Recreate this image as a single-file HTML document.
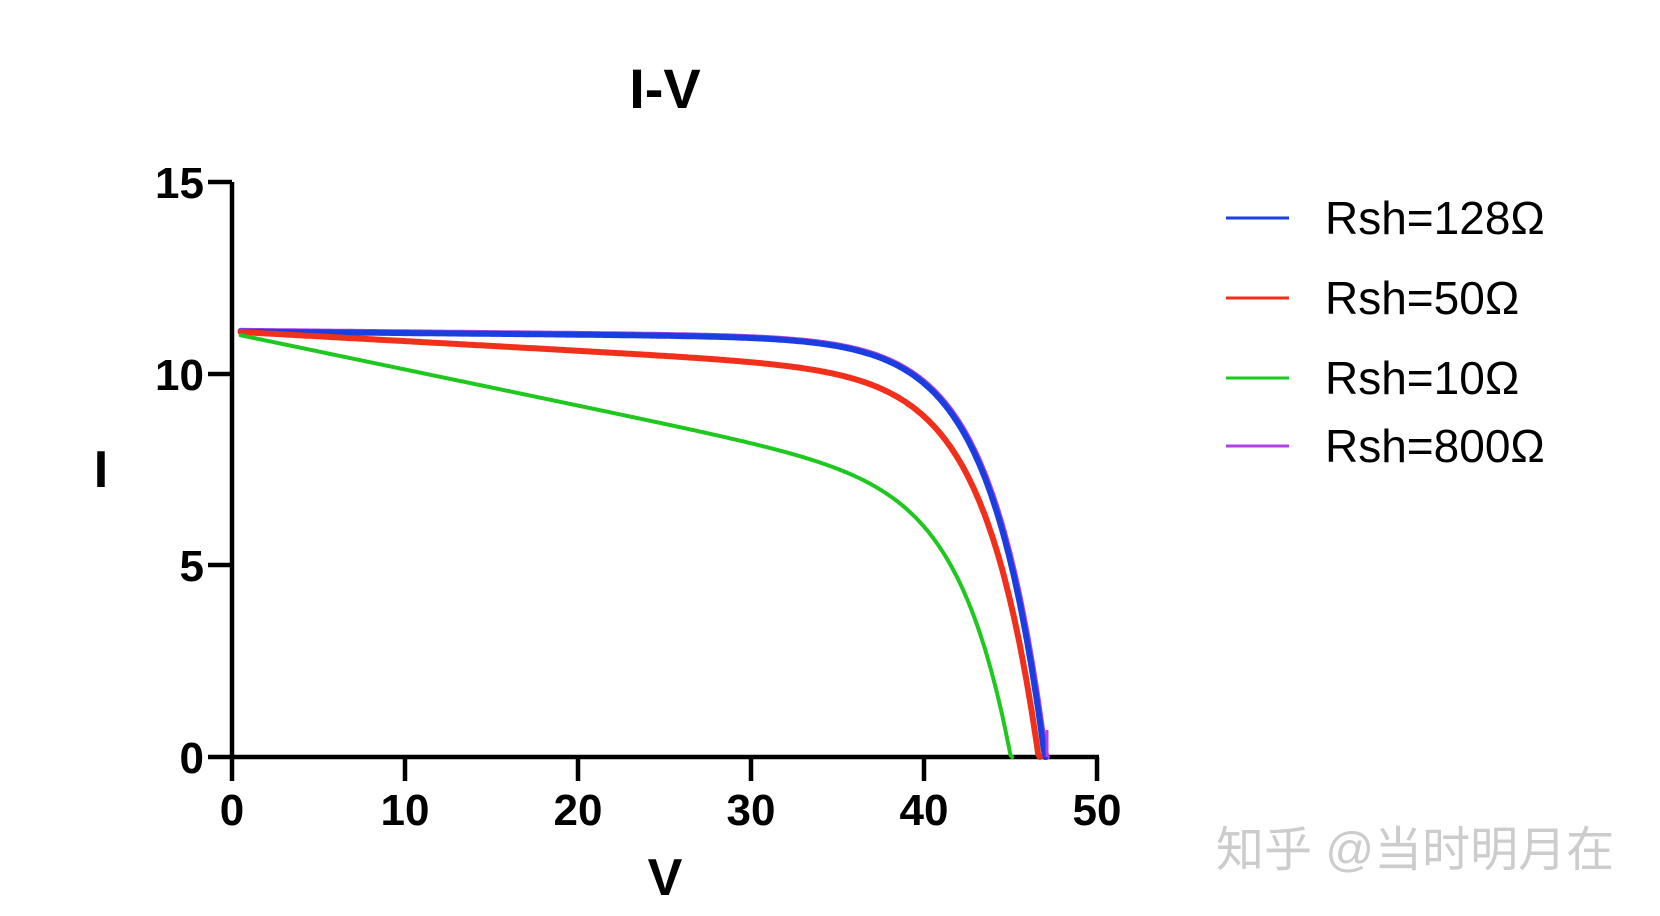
<!DOCTYPE html>
<html><head><meta charset="utf-8"><style>
body{margin:0;background:#fff;}
svg{display:block;font-family:"Liberation Sans","Noto Sans CJK SC",sans-serif;}
</style></head><body>
<svg id="s" width="1660" height="916" viewBox="0 0 1660 916" xmlns="http://www.w3.org/2000/svg">
<text x="665" y="108" font-size="56" font-weight="bold" text-anchor="middle">I-V</text>
<g stroke="#000" stroke-width="4.5" fill="none">
<path d="M232 182 V759 M208 182 H232 M208 374 H232 M208 565 H232 M208 757 H232"/>
<path d="M230 757 H1099 M232 757 V781 M405 757 V781 M578 757 V781 M751 757 V781 M924 757 V781 M1097 757 V781"/>
</g>
<g font-size="44" font-weight="bold" text-anchor="end">
<text x="204" y="198">15</text><text x="204" y="390">10</text><text x="204" y="581">5</text><text x="204" y="773">0</text>
</g>
<g font-size="44" font-weight="bold" text-anchor="middle">
<text x="232" y="825">0</text><text x="405" y="825">10</text><text x="578" y="825">20</text><text x="751" y="825">30</text><text x="924" y="825">40</text><text x="1097" y="825">50</text>
</g>
<text x="101" y="487" font-size="52" font-weight="bold" text-anchor="middle">I</text>
<text x="665" y="895" font-size="52" font-weight="bold" text-anchor="middle">V</text>
<g id="curves" fill="none" stroke-linejoin="round" stroke-linecap="round"></g>
<line x1="1047" y1="757" x2="1047" y2="730" stroke="#b040e8" stroke-width="3"/>
<g stroke-width="3">
<line x1="1226" y1="218" x2="1289" y2="218" stroke="#1a3ee0"/>
<line x1="1226" y1="298" x2="1289" y2="298" stroke="#f0301a"/>
<line x1="1226" y1="378" x2="1289" y2="378" stroke="#1ec81e"/>
<line x1="1226" y1="446" x2="1289" y2="446" stroke="#b040e8"/>
</g>
<g font-size="46">
<text x="1325" y="234">Rsh=128Ω</text>
<text x="1325" y="314">Rsh=50Ω</text>
<text x="1325" y="394">Rsh=10Ω</text>
<text x="1325" y="462">Rsh=800Ω</text>
</g>
<text x="1216" y="866" font-size="48" fill="#cccccc">知乎 @当时明月在</text>
</svg>
<script>
var X=function(v){return 232+v*17.3},Y=function(i){return 757-i*38.33};
function mk(isc,slope,a,sc,col,w){var d="",v;for(v=0.5;v<49;v+=0.1){var I=isc-slope*v-sc*Math.exp((v-47)/a);if(I<0){d+="L"+X(v).toFixed(1)+" "+Y(0);break;}d+=(d?"L":"M")+X(v).toFixed(1)+" "+Y(I).toFixed(1);}
var p=document.createElementNS("http://www.w3.org/2000/svg","path");p.setAttribute("d",d);p.setAttribute("stroke",col);p.setAttribute("stroke-width",w);document.getElementById("curves").appendChild(p);}
mk(11.12,0.004,3.15,10.8,"#b040e8",6);
mk(11.1,0.004,3.15,11.0,"#1a3ee0",6);
mk(11.1,0.025,3.15,11.2,"#f0301a",6);
mk(11.05,0.094,3.0,13.2,"#1ec81e",4);
</script>
</body></html>
